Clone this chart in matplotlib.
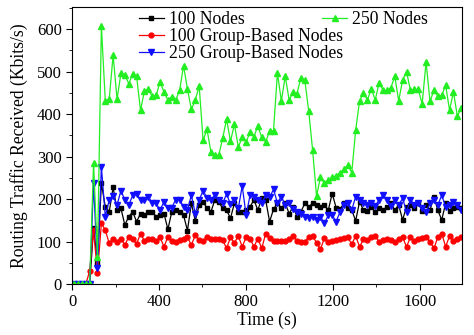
import numpy as np
import matplotlib
matplotlib.use("Agg")
import matplotlib.pyplot as plt
from matplotlib.ticker import MultipleLocator

plt.rcParams['font.family'] = ['Liberation Serif', 'DejaVu Serif']

# sampling every 18 s
time_s = np.arange(100) * 18 + 9

nodes_100 = [0, 0, 0, 0, 0, 131, 50, 237,
             182, 170, 228, 174, 178, 139, 159, 170, 147, 166,
             162, 170, 170, 159, 162, 166, 129, 170, 174, 170,
             162, 126, 190, 149, 186, 194, 178, 170, 198, 194,
             178, 174, 155, 190, 170, 170, 174, 182, 198, 174,
             202, 198,
             147, 176, 190, 178, 190, 166, 182, 159, 170, 190,
             182, 190, 186, 182, 186, 174, 213, 180, 176, 190,
             178, 174, 149, 194, 174, 173, 182, 170, 178, 174,
             182, 190, 174, 186, 151, 182, 186, 178, 190, 173,
             186, 174, 206, 174, 151, 190, 173, 178, 182, 178]

group_100 = [0, 0, 0, 0, 30, 127, 25, 143,
             127, 96, 107, 100, 107, 92, 111, 107, 94, 119,
             102, 105, 105, 102, 110, 88, 111, 102, 100, 104,
             107, 110, 92, 115, 104, 102, 111, 105, 107, 105,
             104, 84, 110, 97, 113, 88, 110, 107, 88, 107,
             84, 119,
             108, 102, 102, 102, 102, 105, 113, 102, 100, 100,
             110, 113, 97, 82, 108, 100, 102, 104, 105, 108,
             110, 94, 113, 88, 105, 104, 110, 113, 100, 104,
             105, 104, 100, 105, 110, 88, 110, 102, 105, 108,
             110, 100, 84, 110, 119, 88, 113, 102, 105, 110]

group_250 = [0, 0, 0, 0, 0, 237, 37, 276,
             159, 198, 207, 186, 220, 198, 186, 209, 212, 198,
             198, 206, 190, 190, 174, 194, 178, 180, 199, 199,
             182, 174, 209, 166, 198, 220, 202, 198, 209, 198,
             190, 212, 188, 198, 178, 231, 162, 209, 206, 198,
             190, 209,
             204, 223, 191, 206, 186, 190, 176, 170, 166, 159,
             155, 159, 151, 159, 143, 162, 162, 147, 170, 186,
             191, 174, 206, 198, 190, 186, 191, 184, 198, 209,
             199, 184, 198, 186, 202, 170, 198, 186, 191, 178,
             170, 190, 198, 186, 209, 182, 186, 194, 186, 174]

nodes_250 = [0, 0, 0, 0, 0, 285, 64,
             607, 431, 435, 539, 435, 496, 491, 472, 494, 489,
             409, 454, 459, 442, 444, 476, 452, 433, 441, 433,
             456, 514, 459, 411, 433, 466,
             338, 364, 311, 303, 303, 343, 388, 336, 376, 323,
             345, 335, 357, 347, 372, 345, 335, 360, 361, 497,
             431, 489, 433, 452, 448, 486, 480, 407, 315,
             207, 252, 237, 245, 251, 255, 262, 270, 280, 262,
             362, 431, 450, 433, 460, 433, 474, 456, 456, 462,
             489, 431, 480, 500, 456, 458, 458, 424, 523, 430,
             456, 442, 444, 468, 409, 452, 395, 415]

fig = plt.figure(figsize=(4.74, 3.35), dpi=100)
ax = fig.add_axes([0.152, 0.152, 0.823, 0.827])

l1, = ax.plot(time_s, nodes_100, color="black", marker="s", ms=3, lw=0.9)
l2, = ax.plot(time_s, group_100, color="red", marker="o", ms=3.5, lw=0.9)
l3, = ax.plot(time_s, group_250, color="#1010ff", marker="v", ms=5, lw=0.9)
l4, = ax.plot(time_s, nodes_250, color="#22ee22", marker="^", ms=5, lw=0.9)

ax.set_xlim(0, 1795)
ax.set_ylim(0, 652)
ax.xaxis.set_major_locator(MultipleLocator(400))
ax.xaxis.set_minor_locator(MultipleLocator(200))
ax.yaxis.set_major_locator(MultipleLocator(100))
ax.yaxis.set_minor_locator(MultipleLocator(50))
ax.tick_params(which="major", length=4, labelsize=12)
ax.tick_params(which="minor", length=2.5)

ax.set_xlabel("Time (s)", fontsize=12.7, labelpad=1)
ax.set_ylabel("Routing Traffic Received (Kbits/s)", fontsize=12.7, labelpad=6)

leg1 = ax.legend([l1, l2, l3], ["100 Nodes", "100 Group-Based Nodes", "250 Group-Based Nodes"],
                 loc="upper left", bbox_to_anchor=(0.14, 1.03), frameon=False,
                 fontsize=12.7, handlelength=1.4, handletextpad=0.3, labelspacing=0.0,
                 borderpad=0.2)
ax.add_artist(leg1)
ax.legend([l4], ["250 Nodes"], loc="upper left", bbox_to_anchor=(0.61, 1.03),
          frameon=False, fontsize=12.7, handlelength=1.4, handletextpad=0.3, borderpad=0.2)

fig.savefig("out.png", dpi=100)
